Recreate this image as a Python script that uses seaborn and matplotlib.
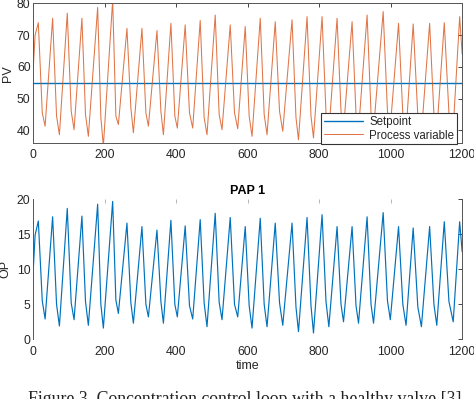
import matplotlib
matplotlib.use("Agg")
import pandas as pd
import seaborn as sns
import matplotlib.pyplot as plt

# sample times (start, then peak / shoulder / trough of each cycle)
time = [0, 5,
        14, 25, 33, 54, 65, 73, 95, 106, 114, 136, 146, 154,
        180, 189, 196, 222, 231, 238, 262, 273, 280, 304, 315, 322,
        346, 357, 364, 385, 396, 403, 425, 437, 446, 467, 478, 486,
        509, 520, 528, 551, 563, 572, 593, 604, 612, 635, 646, 654,
        677, 689, 698, 724, 735, 742, 766, 777, 784, 808, 819, 827,
        850, 861, 868, 892, 903, 910, 934, 945, 952, 979, 991, 999,
        1022, 1034, 1043, 1063, 1076, 1086, 1109, 1121, 1129,
        1150, 1163, 1175, 1193, 1200]

process_variable = [60, 70,
                    73.9, 45.5, 41.3, 75.3, 44.5, 38.6, 76.9, 46, 40.2, 75.3, 45, 38.1,
                    78.7, 44, 35, 81, 44.5, 41.8, 72.1, 47, 39.2, 72.1, 45.5, 41.3,
                    71.4, 46, 38.6, 73.7, 44.5, 40.7, 73.2, 45.5, 40.7, 74.6, 44, 38.6,
                    76.3, 45, 40.2, 73.2, 45.5, 40.5, 72.7, 44.5, 38.1, 75.3, 45, 38.6,
                    74.2, 46, 39.7, 74.8, 44, 37.0, 75.8, 44.5, 37.6, 75.8, 45.5, 39.5,
                    75.3, 46, 40.5, 74.2, 45, 40.0, 76.3, 45.5, 40.0, 77.4, 46, 41.0,
                    73.7, 45, 39.5, 73.5, 44.5, 39.0, 73.7, 45, 39.5,
                    73.9, 45.5, 40.5, 75.8, 64]

controller_output = [10.1, 14.9,
                     16.9, 5.5, 2.9, 17.5, 5.0, 1.9, 18.7, 5.2, 2.8, 17.6, 5.4, 2.0,
                     19.3, 5.0, 1.6, 19.7, 5.6, 3.7, 16.6, 5.2, 2.3, 16.1, 5.0, 3.2,
                     15.6, 5.4, 2.3, 17.0, 5.0, 3.2, 16.2, 4.8, 2.9, 17.1, 5.2, 1.8,
                     18.0, 5.3, 2.8, 17.4, 5.0, 3.2, 16.1, 4.8, 1.6, 17.3, 5.0, 1.8,
                     16.6, 5.2, 2.0, 16.6, 4.6, 1.1, 17.4, 4.8, 0.9, 17.8, 5.4, 1.8,
                     16.1, 5.0, 2.5, 16.1, 4.8, 2.3, 17.5, 5.0, 2.3, 18.1, 5.5, 2.8,
                     16.1, 5.0, 2.0, 15.9, 4.6, 1.8, 16.1, 5.0, 2.0,
                     16.8, 5.4, 2.5, 16.8, 12.5]

setpoint_time = [0, 1200]
setpoint_value = [55, 55]

x_ticks = [0, 200, 400, 600, 800, 1000, 1200]
pv_ticks = [40, 50, 60, 70, 80]
op_ticks = [0, 5, 10, 15, 20]

df = pd.DataFrame({"time": time, "PV": process_variable, "OP": controller_output})
sp = pd.DataFrame({"time": setpoint_time, "SP": setpoint_value})

sns.set_theme(style="white")
plt.rcParams["font.family"] = ["Liberation Sans", "DejaVu Sans"]

blue = "#0072BD"
orange = "#D95319"
dark = "#262626"

fig = plt.figure(figsize=(4.74, 3.99), dpi=100)
ax1 = fig.add_axes([0.0703, 0.6416, 0.9047, 0.3501])
ax2 = fig.add_axes([0.0703, 0.1496, 0.9047, 0.3509])

# top: setpoint vs process variable
sns.lineplot(data=sp, x="time", y="SP", ax=ax1, color=blue, linewidth=1.0,
             label="Setpoint")
sns.lineplot(data=df, x="time", y="PV", ax=ax1, color=orange, linewidth=0.75,
             alpha=0.8, label="Process variable")
ax1.set_xlim(0, 1200)
ax1.set_ylim(36, 80)
ax1.set_yticks(pv_ticks)
ax1.set_xticks(x_ticks)
ax1.set_xlabel("")
ax1.set_ylabel("PV", fontsize=9, color=dark, labelpad=2)
leg = ax1.legend(loc="lower right", bbox_to_anchor=(0.988, -0.01), fontsize=8.3,
                 frameon=True, fancybox=False, handlelength=3.4,
                 borderpad=0.25, labelspacing=0.15, handletextpad=0.5,
                 borderaxespad=0.0)
leg.get_frame().set_edgecolor("#333333")
leg.get_frame().set_linewidth(0.8)
leg.get_frame().set_alpha(1)

# bottom: controller output
sns.lineplot(data=df, x="time", y="OP", ax=ax2, color=blue, linewidth=0.85)
ax2.set_xlim(0, 1200)
ax2.set_ylim(0, 20)
ax2.set_yticks(op_ticks)
ax2.set_xticks(x_ticks)
ax2.set_xlabel("time", fontsize=9, color=dark, labelpad=2)
ax2.set_ylabel("OP", fontsize=9, color=dark, labelpad=4)
ax2.set_title("PAP 1", fontsize=9, fontweight="bold", color="black", pad=4)

for ax in (ax1, ax2):
    ax.tick_params(direction="in", length=3, width=0.6, top=True, right=True,
                   labelsize=8.8, colors=dark, pad=2)
    ax.tick_params(axis="x", pad=4.5)
    for s in ax.spines.values():
        s.set_color("#555555")
        s.set_linewidth(0.7)
    ax.grid(False)
ax2.spines["top"].set_visible(False)
ax2.spines["bottom"].set_visible(False)
ax2.tick_params(axis="x", colors="#aaaaaa", labelcolor=dark)

fig.text(0.517, 1 - 391 / 399,
         "Figure 3. Concentration control loop with a healthy valve [3]",
         ha="center", va="top", fontsize=12.8, family="Liberation Serif",
         color="#222222")

fig.savefig("out.png", dpi=100)
